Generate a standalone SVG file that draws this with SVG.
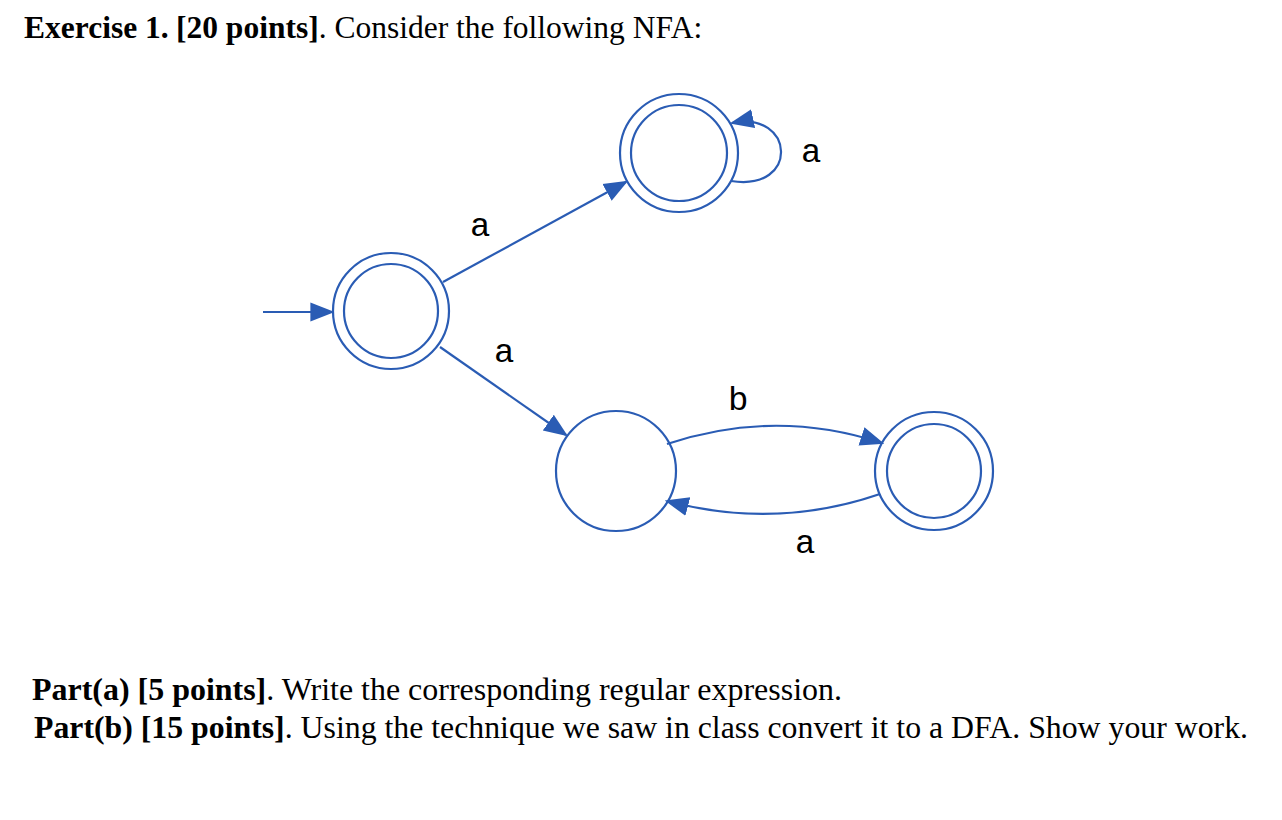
<svg xmlns="http://www.w3.org/2000/svg" width="1282" height="820" viewBox="0 0 1282 820">
<style>
.s{fill:none;stroke:#2a5cb4;stroke-width:2.2}
.e{fill:none;stroke:#2a5cb4;stroke-width:2.2}
.l{font-family:"Liberation Mono",monospace;font-size:34px;fill:#000}
.t{font-family:"Liberation Serif",serif;font-size:31.5px;fill:#000}
</style>
<defs>
<marker id="a2" viewBox="0 0 10 10" refX="9" refY="5" markerWidth="24" markerHeight="24" markerUnits="userSpaceOnUse" orient="auto"><path d="M0,1L10,5L0,9z" fill="#2a5cb4"/></marker></defs>
<rect width="1282" height="820" fill="#fff"/>
<text class="t" x="24" y="38" font-weight="bold">Exercise 1.</text>
<text class="t" x="176" y="38"><tspan font-weight="bold">[20 points]</tspan>. Consider the following NFA:</text>
<g id="q0"><circle class="s" cx="391" cy="311" r="58"/><circle class="s" cx="391" cy="311" r="47"/></g>
<g id="q1"><circle class="s" cx="679" cy="153" r="59"/><circle class="s" cx="679" cy="153" r="48"/></g>
<g id="q2"><circle class="s" cx="616" cy="471" r="60"/></g>
<g id="q3"><circle class="s" cx="934" cy="471" r="59"/><circle class="s" cx="934" cy="471" r="47"/></g>
<g id="edges">
<path class="e" d="M263,312L332,312" marker-end="url(#a2)"/>
<path class="e" d="M443,282L626,182" marker-end="url(#a2)"/>
<path class="e" d="M440,347L566,435" marker-end="url(#a2)"/>
<path class="e" d="M667,444Q775,408 882,443" marker-end="url(#a2)"/>
<path class="e" d="M880,494Q775,530 667,501" marker-end="url(#a2)"/>
<path class="e" d="M731,181C800,192 795,110 732,123" marker-end="url(#a2)"/>
</g>
<text class="l" x="470" y="236">a</text>
<text class="l" x="494" y="362">a</text>
<text class="l" x="801" y="162">a</text>
<text class="l" x="728" y="410">b</text>
<text class="l" x="795" y="553">a</text>
<text class="t" x="32" y="700" textLength="810" lengthAdjust="spacingAndGlyphs"><tspan font-weight="bold">Part(a) [5 points]</tspan>. Write the corresponding regular expression.</text>
<text class="t" x="34" y="738" textLength="1214" lengthAdjust="spacingAndGlyphs"><tspan font-weight="bold">Part(b) [15 points]</tspan>. Using the technique we saw in class convert it to a DFA. Show your work.</text>
</svg>
